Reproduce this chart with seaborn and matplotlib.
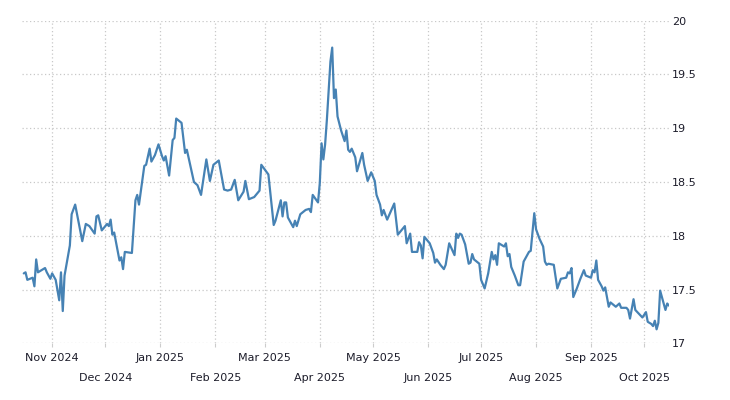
import matplotlib
matplotlib.use("Agg")
import pandas as pd
import seaborn as sns
import matplotlib.pyplot as plt
import matplotlib.dates as mdates

dates = [
    "2024-10-16", "2024-10-17", "2024-10-18", "2024-10-21", "2024-10-22", "2024-10-23",
    "2024-10-24", "2024-10-28", "2024-10-29", "2024-10-31", "2024-11-01", "2024-11-03",
    "2024-11-05", "2024-11-06", "2024-11-07", "2024-11-08", "2024-11-11", "2024-11-12",
    "2024-11-14", "2024-11-18", "2024-11-20", "2024-11-22", "2024-11-25", "2024-11-26",
    "2024-11-27", "2024-11-29", "2024-12-02", "2024-12-03", "2024-12-04", "2024-12-05",
    "2024-12-06", "2024-12-09", "2024-12-10", "2024-12-11", "2024-12-12", "2024-12-16",
    "2024-12-18", "2024-12-19", "2024-12-20", "2024-12-23", "2024-12-24", "2024-12-26",
    "2024-12-27", "2024-12-29", "2024-12-31", "2025-01-02", "2025-01-03", "2025-01-04",
    "2025-01-06", "2025-01-08", "2025-01-09", "2025-01-10", "2025-01-13", "2025-01-15",
    "2025-01-16", "2025-01-20", "2025-01-22", "2025-01-24", "2025-01-27", "2025-01-29",
    "2025-01-31", "2025-02-03", "2025-02-06", "2025-02-08", "2025-02-10", "2025-02-12",
    "2025-02-14", "2025-02-17", "2025-02-18", "2025-02-20", "2025-02-23", "2025-02-26",
    "2025-02-27", "2025-03-03", "2025-03-06", "2025-03-07", "2025-03-10", "2025-03-11",
    "2025-03-12", "2025-03-13", "2025-03-14", "2025-03-17", "2025-03-18", "2025-03-19",
    "2025-03-21", "2025-03-24", "2025-03-26", "2025-03-27", "2025-03-28", "2025-03-31",
    "2025-04-01", "2025-04-02", "2025-04-03", "2025-04-04", "2025-04-05", "2025-04-06",
    "2025-04-07", "2025-04-08", "2025-04-09", "2025-04-10", "2025-04-11", "2025-04-13",
    "2025-04-15", "2025-04-16", "2025-04-17", "2025-04-18", "2025-04-19", "2025-04-21",
    "2025-04-22", "2025-04-25", "2025-04-26", "2025-04-28", "2025-04-30", "2025-05-02",
    "2025-05-03", "2025-05-05", "2025-05-06", "2025-05-07", "2025-05-09", "2025-05-13",
    "2025-05-15", "2025-05-19", "2025-05-20", "2025-05-22", "2025-05-23", "2025-05-26",
    "2025-05-27", "2025-05-28", "2025-05-29", "2025-05-30", "2025-06-02", "2025-06-04",
    "2025-06-05", "2025-06-06", "2025-06-08", "2025-06-10", "2025-06-11", "2025-06-13",
    "2025-06-16", "2025-06-17", "2025-06-18", "2025-06-19", "2025-06-20", "2025-06-22",
    "2025-06-24", "2025-06-25", "2025-06-26", "2025-06-27", "2025-06-30", "2025-07-01",
    "2025-07-03", "2025-07-05", "2025-07-07", "2025-07-08", "2025-07-09", "2025-07-10",
    "2025-07-11", "2025-07-14", "2025-07-15", "2025-07-16", "2025-07-17", "2025-07-18",
    "2025-07-20", "2025-07-22", "2025-07-23", "2025-07-25", "2025-07-28", "2025-07-29",
    "2025-07-31", "2025-08-01", "2025-08-03", "2025-08-05", "2025-08-06", "2025-08-07",
    "2025-08-08", "2025-08-11", "2025-08-13", "2025-08-15", "2025-08-18", "2025-08-19",
    "2025-08-20", "2025-08-21", "2025-08-22", "2025-08-24", "2025-08-26", "2025-08-28",
    "2025-08-29", "2025-09-01", "2025-09-02", "2025-09-03", "2025-09-04", "2025-09-05",
    "2025-09-07", "2025-09-08", "2025-09-09", "2025-09-11", "2025-09-12", "2025-09-15",
    "2025-09-17", "2025-09-18", "2025-09-21", "2025-09-22", "2025-09-23", "2025-09-25",
    "2025-09-26", "2025-09-30", "2025-10-02", "2025-10-03", "2025-10-05", "2025-10-06",
    "2025-10-07", "2025-10-08", "2025-10-09", "2025-10-10", "2025-10-13", "2025-10-14",
    "2025-10-15",
]

values = [
    17.65, 17.66, 17.59, 17.61, 17.53, 17.78,
    17.66, 17.70, 17.66, 17.60, 17.65, 17.59,
    17.40, 17.66, 17.30, 17.63, 17.91, 18.20,
    18.29, 17.95, 18.11, 18.09, 18.02, 18.18,
    18.19, 18.05, 18.11, 18.09, 18.15, 18.01,
    18.03, 17.77, 17.80, 17.69, 17.85, 17.84,
    18.33, 18.38, 18.29, 18.65, 18.66, 18.81,
    18.69, 18.75, 18.85, 18.74, 18.70, 18.74,
    18.56, 18.89, 18.91, 19.09, 19.05, 18.77,
    18.80, 18.50, 18.47, 18.38, 18.71, 18.51,
    18.66, 18.70, 18.43, 18.42, 18.43, 18.52,
    18.33, 18.41, 18.51, 18.34, 18.36, 18.42,
    18.66, 18.57, 18.10, 18.14, 18.33, 18.18,
    18.31, 18.31, 18.17, 18.08, 18.14, 18.09,
    18.20, 18.24, 18.25, 18.22, 18.38, 18.31,
    18.49, 18.86, 18.71, 18.85, 19.08, 19.35,
    19.62, 19.75, 19.28, 19.36, 19.11, 18.98,
    18.88, 18.98, 18.80, 18.78, 18.81, 18.73,
    18.60, 18.77, 18.66, 18.51, 18.59, 18.51,
    18.38, 18.29, 18.19, 18.24, 18.15, 18.30,
    18.01, 18.09, 17.93, 18.02, 17.85, 17.85,
    17.94, 17.91, 17.79, 17.99, 17.93, 17.84,
    17.75, 17.78, 17.73, 17.69, 17.73, 17.93,
    17.82, 18.02, 17.98, 18.02, 18.01, 17.92,
    17.74, 17.75, 17.83, 17.78, 17.74, 17.59,
    17.51, 17.65, 17.85, 17.78, 17.82, 17.73,
    17.93, 17.90, 17.93, 17.81, 17.83, 17.71,
    17.63, 17.54, 17.54, 17.76, 17.85, 17.86,
    18.21, 18.06, 17.97, 17.90, 17.76, 17.73,
    17.74, 17.73, 17.51, 17.60, 17.61, 17.66,
    17.65, 17.70, 17.43, 17.51, 17.60, 17.68,
    17.63, 17.61, 17.68, 17.66, 17.77, 17.59,
    17.53, 17.49, 17.52, 17.34, 17.38, 17.34,
    17.37, 17.33, 17.33, 17.31, 17.23, 17.41,
    17.31, 17.24, 17.29, 17.20, 17.18, 17.16,
    17.21, 17.13, 17.19, 17.49, 17.31, 17.37,
    17.35,
]

y_ticks = [17, 17.5, 18, 18.5, 19, 19.5, 20]
y_tick_labels = ["17", "17.5", "18", "18.5", "19", "19.5", "20"]

df = pd.DataFrame({"date": pd.to_datetime(dates), "value": values})

sns.set_theme(style="white")
plt.rcParams["font.family"] = ["DejaVu Sans"]

fig = plt.figure(figsize=(7.3, 4.0), dpi=100)
ax = fig.add_axes([22 / 730, 1 - 343.3 / 400, (669 - 22) / 730, (343.3 - 20.7) / 400])

sns.lineplot(data=df, x="date", y="value", ax=ax, color="#4682b4", linewidth=1.6)

ax.set_xlim(pd.Timestamp("2024-10-15"), pd.Timestamp("2025-10-15"))
ax.set_ylim(17, 20)
ax.set_xlabel("")
ax.set_ylabel("")

ax.yaxis.tick_right()
ax.set_yticks(y_ticks)
ax.set_yticklabels(y_tick_labels)
ax.tick_params(axis="y", length=0, pad=2, labelsize=8, labelcolor="#1c1c2a")

ax.xaxis.set_major_locator(mdates.MonthLocator(bymonth=[1, 3, 5, 7, 9, 11]))
ax.xaxis.set_minor_locator(mdates.MonthLocator(bymonth=[2, 4, 6, 8, 10, 12]))
ax.xaxis.set_major_formatter(mdates.DateFormatter("%b %Y"))
ax.xaxis.set_minor_formatter(mdates.DateFormatter("%b %Y"))
ax.tick_params(axis="x", which="major", length=3, width=0.8, color="#cccccc",
               pad=4, labelsize=8, labelcolor="#1c1c2a", bottom=True)
ax.tick_params(axis="x", which="minor", length=3, width=0.8, color="#cccccc",
               pad=18.5, labelsize=8, labelcolor="#1c1c2a", bottom=True)

grid_kw = dict(color="#c8c8c8", linewidth=0.9, linestyle=(0, (1, 2)))
ax.grid(True, which="both", axis="x", **grid_kw)
ax.grid(True, which="major", axis="y", **grid_kw)
ax.set_axisbelow(True)

for s in ax.spines.values():
    s.set_visible(False)

fig.savefig("out.png", dpi=100)
